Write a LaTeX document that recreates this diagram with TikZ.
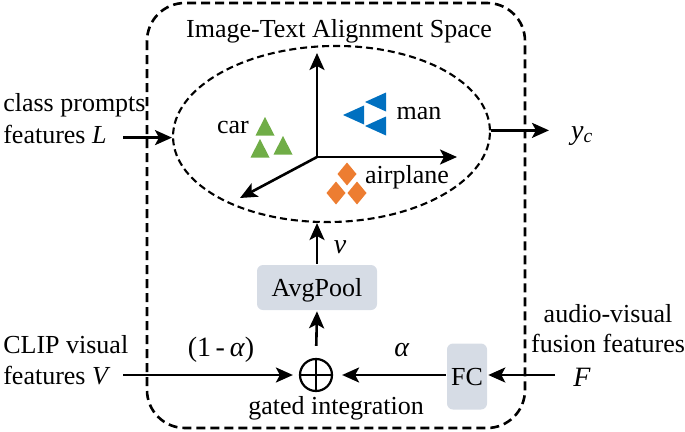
\documentclass[tikz,border=0pt]{standalone}
\usepackage{fontspec}
\setmainfont{Liberation Serif}
\usetikzlibrary{arrows.meta,shapes.geometric}
\definecolor{mgreen}{HTML}{70AD47}
\definecolor{mblue}{HTML}{0070C0}
\definecolor{morange}{HTML}{ED7D31}
\definecolor{boxfill}{HTML}{D6DCE5}
\begin{document}
\begin{tikzpicture}[x=1pt,y=-1pt,
  font=\fontsize{26}{30}\selectfont,
  line width=2.6pt,
  arr/.style={-{Stealth[length=17pt,width=15pt,inset=4pt]}},
  txt/.style={inner sep=0pt,anchor=base},
  txtl/.style={inner sep=0pt,anchor=base west},
  bigtxt/.style={inner sep=0pt,anchor=base,font=\fontsize{28}{32}\selectfont},
  graybox/.style={fill=boxfill,rounded corners=6pt,inner sep=0pt,text height=17pt,text depth=0pt},
  outerdash/.style={dash pattern=on 9pt off 5pt,line width=2.6pt},
  elldash/.style={dash pattern=on 7pt off 4pt,line width=2.1pt}
]
\useasboundingbox (0,0) rectangle (685,431);

% outer dashed box
\draw[outerdash,rounded corners=38pt] (147,3) rectangle (525,428);

% title
\node[txt] (title) at (339,37) {Image-Text Alignment Space};

% ellipse
\node[draw,elldash,ellipse,minimum width=317pt,minimum height=176pt,inner sep=0pt,rotate=1.3] (ell) at (331.5,134) {};

% axes
\coordinate (O) at (317,157);
\coordinate (Ay) at (317,53);
\coordinate (Ax) at (457,157);
\coordinate (Az) at (240,198);
\draw[arr] (O) -- (Ay);
\draw[arr] (O) -- (Ax);
\draw[arr] (O) -- (Az);

% car (green triangles)
\foreach \x/\y in {265/127, 260/149, 283/146}
  \fill[mgreen] (\x,\y) +(0,-10) -- +(9.5,8.5) -- +(-9.5,8.5) -- cycle;
\node[txt] (car) at (233,133) {car};

% man (blue left triangles)
\foreach \x/\y in {354/115, 376/102, 376/126}
  \fill[mblue] (\x,\y) +(-11,0) -- +(10,-9.5) -- +(10,9.5) -- cycle;
\node[txt] (man) at (419,119) {man};

% airplane (orange diamonds)
\foreach \x/\y in {347/174, 336/193, 357/193}
  \fill[morange] (\x,\y) +(0,-11.5) -- +(9.5,0) -- +(0,11.5) -- +(-9.5,0) -- cycle;
\node[txt] (airplane) at (407,183) {airplane};

% left input L
\node[txtl] (cp1) at (2,111) {class prompts};
\node[txtl] (cp2) at (2,143) {features \textit{L}};
\coordinate (Lin) at (123,138);
\draw[arr] (Lin |- ell.west) -- (ell.west);

% output y_c
\coordinate (Yout) at (549,130);
\draw[arr] (ell.east) -- (ell.east -| Yout);
\node[bigtxt] (yc) at (582,139) {\textit{y}\textsubscript{\textit{c}}};

% AvgPool
\node[graybox,minimum width=120pt,minimum height=45pt] (avg) at (317,287.5) {AvgPool};
\draw[arr] (avg.north) -- (avg.north |- ell.south);
\node[bigtxt] (v) at (340,253) {\textit{v}};

% gated integration
\node[draw,circle,minimum size=32pt,inner sep=0pt,line width=2.2pt] (plus) at (316,375) {};
\draw[line width=2.2pt] (plus.north) -- (plus.south);
\draw[line width=2.2pt] (plus.west) -- (plus.east);
\node[txt] (gi) at (336,414) {gated integration};
\draw[arr,shorten <=12pt] (plus.north) -- (avg.south);

% CLIP visual features V
\node[txtl] (cl1) at (2,353) {CLIP visual};
\node[txtl] (cl2) at (2,384) {features \textit{V}};
\coordinate (Vin) at (123,375);
\draw[arr,shorten >=6pt] (Vin) -- (plus.west);
\node[bigtxt] (oma) at (221,356) {(1\,-\,\textit{α})};

% FC
\node[graybox,minimum width=40pt,minimum height=66pt] (fc) at (467,376.5) {FC};
\draw[arr,shorten >=9pt] (fc.west |- plus.east) -- (plus.east);
\node[bigtxt] (alpha) at (402,356) {\textit{α}};

% audio-visual features F
\node[txt] (av1) at (608,322) {audio-visual};
\node[txt] (av2) at (608,352) {fusion features};
\node[bigtxt] (F) at (582,386) {\textit{F}};
\coordinate (Fin) at (555,375);
\draw[arr] (Fin) -- (Fin -| fc.east);
\end{tikzpicture}
\end{document}
